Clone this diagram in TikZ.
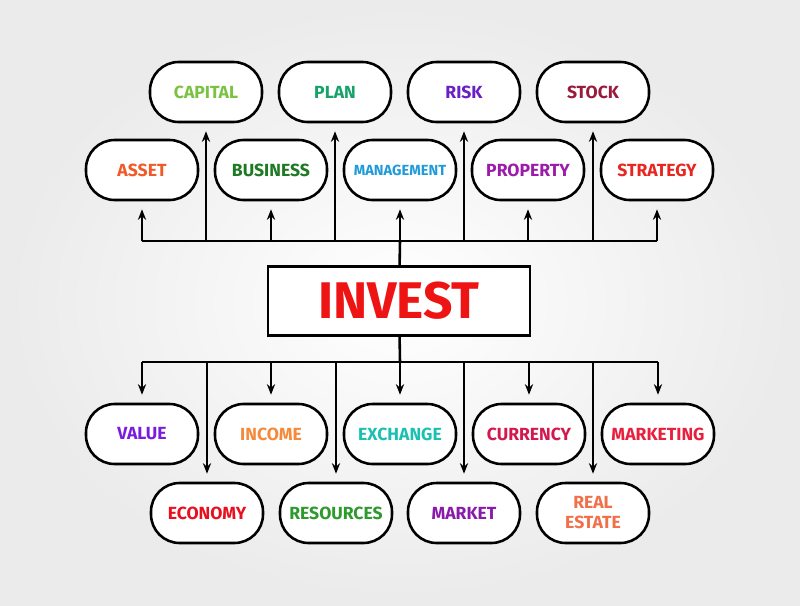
\documentclass[tikz,border=0pt]{standalone}
\usepackage{fontspec}
\setmainfont{Fira Sans}
\usetikzlibrary{arrows.meta}

\definecolor{capitalc}{HTML}{7CC242}
\definecolor{planc}{HTML}{16A36A}
\definecolor{riskc}{HTML}{6A1FC4}
\definecolor{stockc}{HTML}{9A1A3C}
\definecolor{assetc}{HTML}{F05A28}
\definecolor{businessc}{HTML}{1E7A22}
\definecolor{managementc}{HTML}{1E9BD8}
\definecolor{propertyc}{HTML}{9C1BAA}
\definecolor{strategyc}{HTML}{E8261F}
\definecolor{valuec}{HTML}{7A1CE0}
\definecolor{incomec}{HTML}{F58A3A}
\definecolor{exchangec}{HTML}{1CC0B2}
\definecolor{currencyc}{HTML}{D2184E}
\definecolor{marketingc}{HTML}{E8203E}
\definecolor{economyc}{HTML}{E8101E}
\definecolor{resourcesc}{HTML}{2E9A2E}
\definecolor{marketc}{HTML}{8A1AAA}
\definecolor{realestatec}{HTML}{F0704A}
\definecolor{investc}{HTML}{EE1414}

\begin{document}
\begin{tikzpicture}[x=0.03cm, y=-0.03cm, line width=2.2pt, draw=black]
    \tikzstyle{topic}=[draw=black, fill=white, rounded corners=0.86cm, minimum width=3.36cm, minimum height=1.8cm, align=center, inner sep=0pt, font=\fontsize{15}{16}\selectfont\bfseries];
    \tikzstyle{link}=[-{Stealth[length=9pt,width=7pt]}, shorten >=0.24cm];

    % background
    \shade[inner color=white, outer color=black!8] (0,0) rectangle (800,605);
    \useasboundingbox (0,0) rectangle (800,605);

    % centre
    \node (invest) [draw=black, fill=white, minimum width=7.86cm, minimum height=2.07cm, text=investc, font=\fontsize{44}{44}\selectfont\bfseries] at (399,301) {INVEST};
    \coordinate (topbus) at (400,241);
    \coordinate (botbus) at (400,362);

    % upper topics
    \node (capital) [topic, text=capitalc] at (206,92) {CAPITAL};
    \node (plan) [topic, text=planc] at (335,92) {PLAN};
    \node (risk) [topic, text=riskc] at (464,92) {RISK};
    \node (stock) [topic, text=stockc] at (593,92) {STOCK};
    \node (asset) [topic, text=assetc] at (142,170) {ASSET};
    \node (business) [topic, text=businessc] at (271,170) {BUSINESS};
    \node (management) [topic, text=managementc, font=\fontsize{12.5}{14}\selectfont\bfseries] at (400,170) {MANAGEMENT};
    \node (property) [topic, text=propertyc] at (528,170) {PROPERTY};
    \node (strategy) [topic, text=strategyc] at (657,170) {STRATEGY};

    % lower topics
    \node (value) [topic, text=valuec] at (142,434) {VALUE};
    \node (income) [topic, text=incomec] at (271,434) {INCOME};
    \node (exchange) [topic, text=exchangec] at (400,434) {EXCHANGE};
    \node (currency) [topic, text=currencyc] at (529,434) {CURRENCY};
    \node (marketing) [topic, text=marketingc] at (658,434) {MARKETING};
    \node (economy) [topic, text=economyc] at (207,513) {ECONOMY};
    \node (resources) [topic, text=resourcesc] at (336,513) {RESOURCES};
    \node (market) [topic, text=marketc] at (464,513) {MARKET};
    \node (realestate) [topic, text=realestatec, font=\fontsize{15}{17}\selectfont\bfseries] at (593,513) {REAL\\ESTATE};

    % upper links
    \draw (invest) -- (topbus);
    \draw (asset |- topbus) -- (strategy |- topbus);
    \foreach \t in {asset, business, management, property, strategy}
        \draw[link] (\t |- topbus) -- (\t.south);
    \foreach \t in {capital, plan, risk, stock}
        \draw[link] (\t |- topbus) -- (\t.south);

    % lower links
    \draw (invest) -- (botbus);
    \draw (value |- botbus) -- (marketing |- botbus);
    \foreach \t in {value, income, exchange, currency, marketing}
        \draw[link] (\t |- botbus) -- (\t.north);
    \foreach \t in {economy, resources, market, realestate}
        \draw[link] (\t |- botbus) -- (\t.north);
\end{tikzpicture}
\end{document}
